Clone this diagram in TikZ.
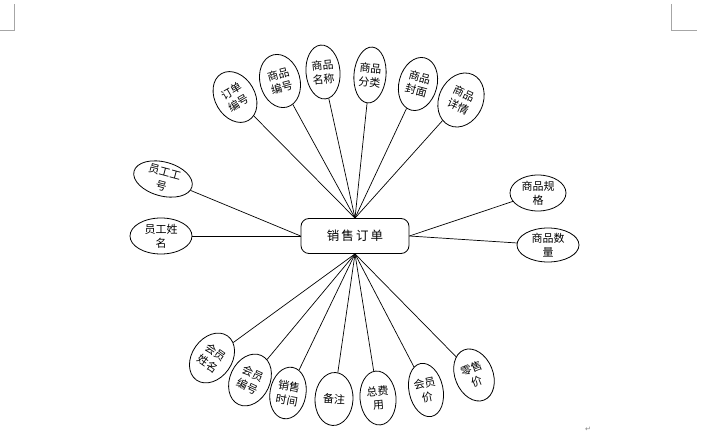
\documentclass[tikz,border=0pt]{standalone}
\usepackage{fontspec}
\setmainfont{Noto Sans CJK SC}
\newfontfamily\symfont{DejaVu Sans}
\usetikzlibrary{shapes.geometric}
\begin{document}
\begin{tikzpicture}[x=1pt,y=1pt,
  attr/.style={ellipse,draw,line width=0.8pt,inner sep=0pt,align=center,
    font=\fontsize{11}{14}\selectfont},
  mainbox/.style={rectangle,rounded corners=8pt,draw,line width=0.8pt,
    minimum width=108pt,minimum height=35pt,font=\fontsize{12.5}{14}\selectfont},
  link/.style={line width=0.7pt},
  cornermark/.style={draw=gray!70,line width=0.6pt}]
\useasboundingbox (0,0) rectangle (705,-446);
% page corner marks
\draw[cornermark] (0,-30) -- (14,-30) -- (14,-4);
\draw[cornermark] (671,-4) -- (671,-30) -- (697,-30);
\node[text=gray,font=\symfont\fontsize{7}{8}\selectfont] (ret) at (588,-429) {↵};
% centre
\node[mainbox] (c) at (355,-236) {销\,售\,订\,单};
% top
\node[attr,rotate=30,minimum width=40,minimum height=54] (a1) at (235,-97) {订单\\编号};
\node[attr,rotate=15,minimum width=40,minimum height=54] (a2) at (280,-81) {商品\\编号};
\node[attr,rotate=5,minimum width=34,minimum height=54] (a3) at (323,-72) {商品\\名称};
\node[attr,rotate=-5,minimum width=32,minimum height=56] (a4) at (370,-75) {商品\\分类};
\node[attr,rotate=-15,minimum width=38,minimum height=54] (a5) at (418,-84) {商品\\封面};
\node[attr,rotate=-25,minimum width=44,minimum height=56] (a6) at (461,-100) {商品\\详情};
% left
\node[attr,rotate=-15,minimum width=60,minimum height=34] (b1) at (163,-179) {员工工\\号};
\node[attr,minimum width=62,minimum height=36] (b2) at (161,-236) {员工姓\\名};
% right
\node[attr,minimum width=56,minimum height=36] (b3) at (538,-193) {商品规\\格};
\node[attr,minimum width=62,minimum height=34] (b4) at (548,-245) {商品数\\量};
% bottom
\node[attr,rotate=-35,minimum width=40,minimum height=54] (d1) at (212,-358) {会员\\姓名};
\node[attr,rotate=-25,minimum width=40,minimum height=54] (d2) at (250,-380) {会员\\编号};
\node[attr,rotate=-10,minimum width=36,minimum height=52] (d3) at (288,-393) {销售\\时间};
\node[attr,rotate=-3,minimum width=38,minimum height=53] (d4) at (334,-399) {备注};
\node[attr,rotate=5,minimum width=36,minimum height=54] (d5) at (378,-398) {总费\\用};
\node[attr,rotate=12,minimum width=34,minimum height=54] (d6) at (426,-390) {会员\\价};
\node[attr,rotate=22,minimum width=38,minimum height=54] (d7) at (474,-375) {零售\\价};
% connectors
\foreach \n in {a1,a2,a3,a4,a5,a6} \draw[link] (c.north) -- (\n);
\foreach \n in {b1,b2} \draw[link] (c.west) -- (\n);
\foreach \n in {b3,b4} \draw[link] (c.east) -- (\n);
\foreach \n in {d1,d2,d3,d4,d5,d6,d7} \draw[link] (c.south) -- (\n);
\end{tikzpicture}
\end{document}
